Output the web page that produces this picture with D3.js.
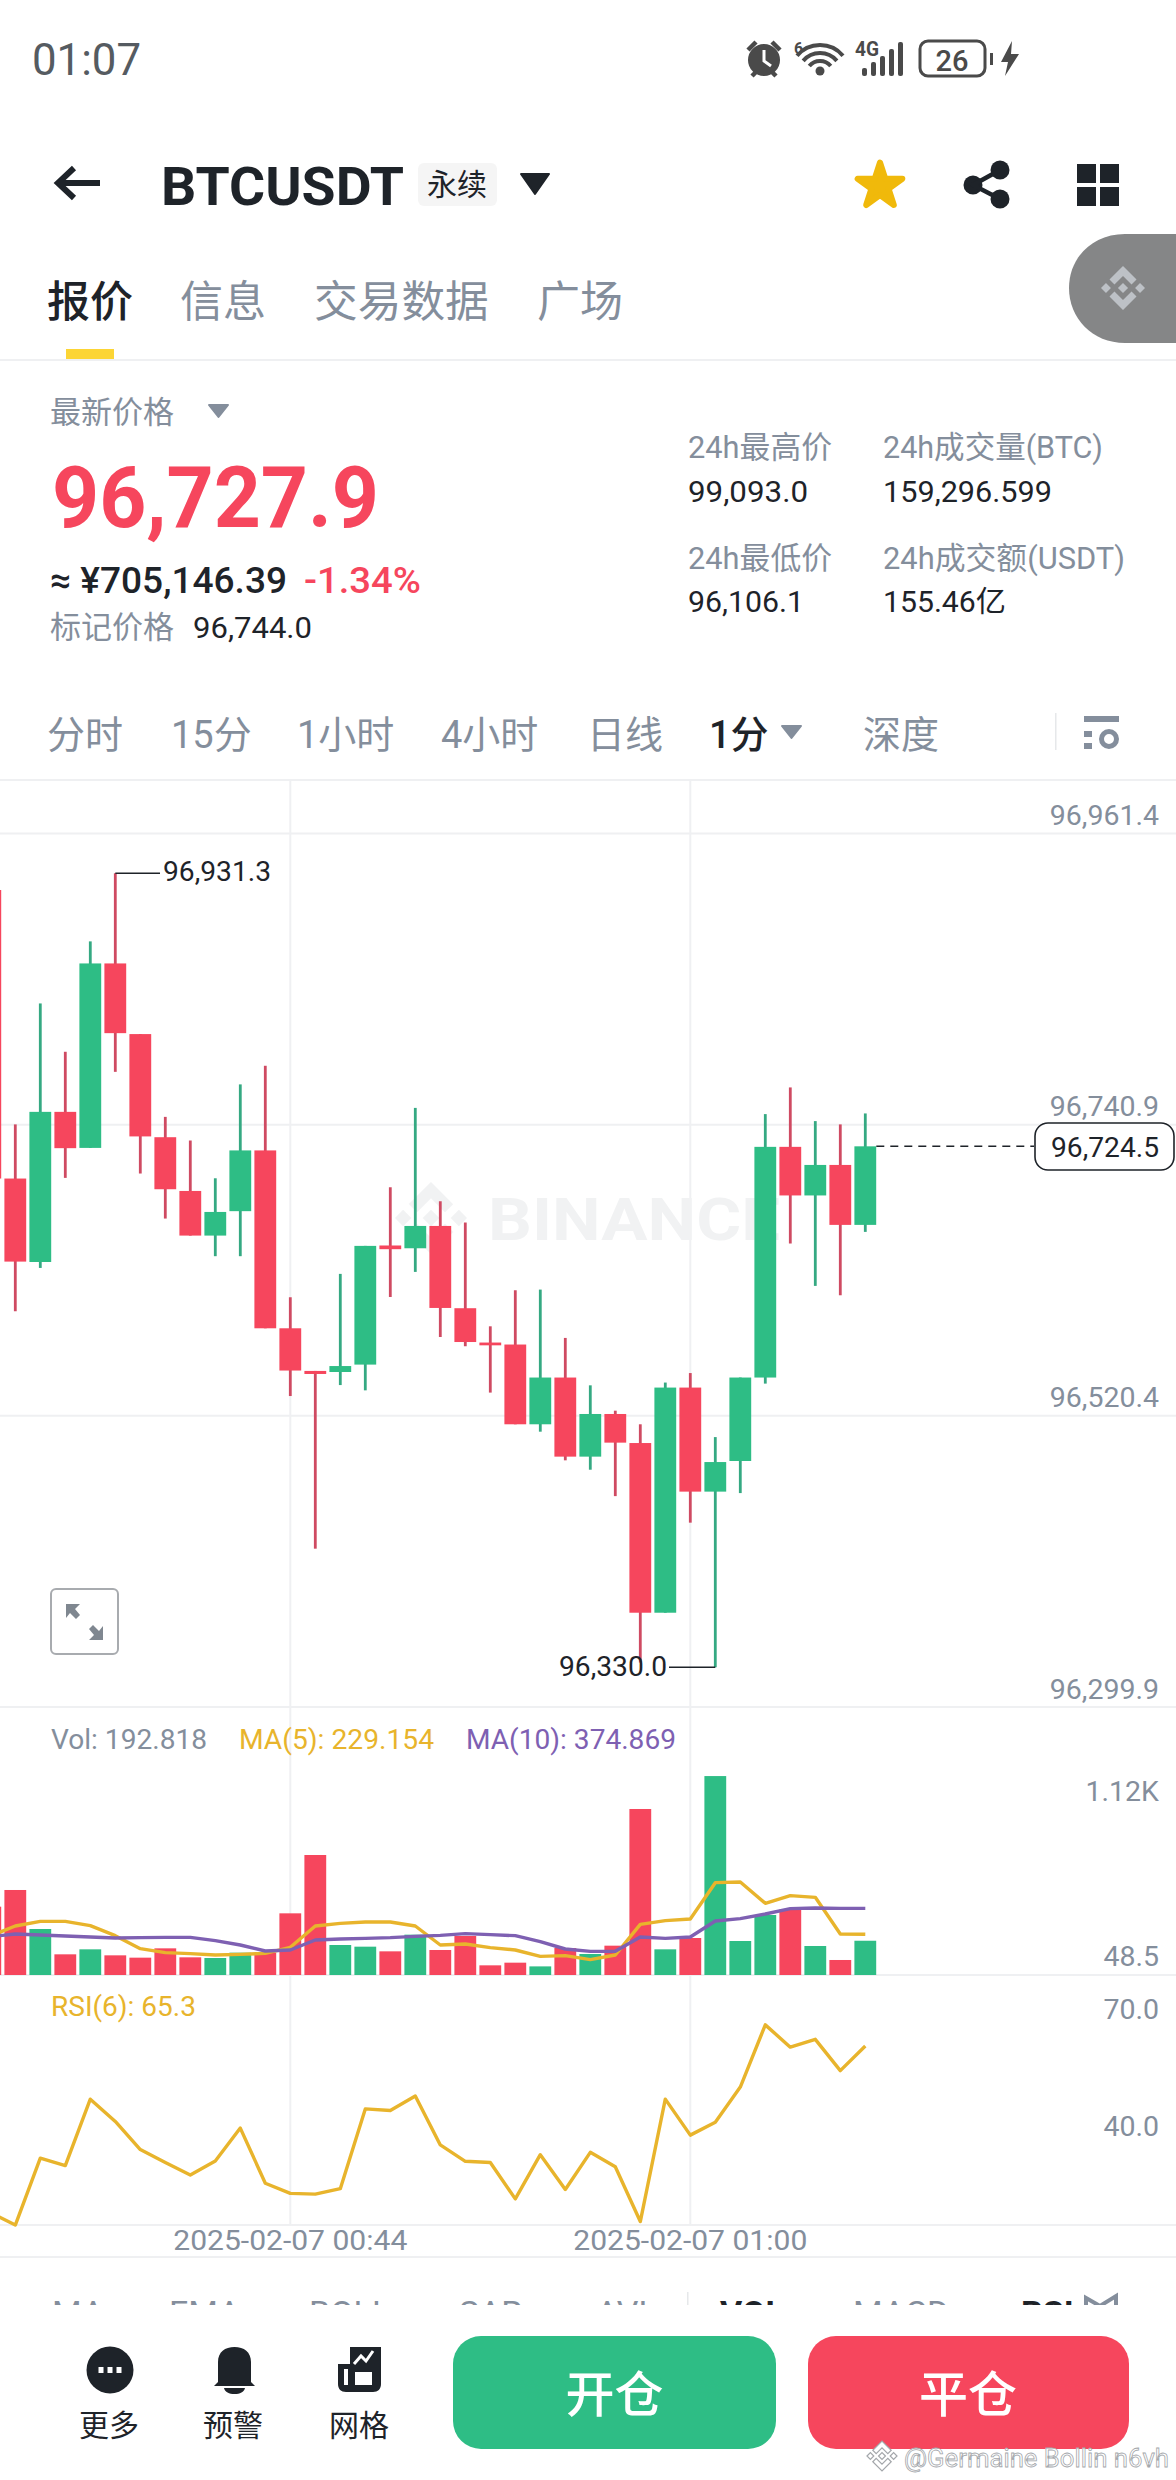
<!DOCTYPE html>
<html>
<head>
<meta charset="utf-8">
<script src="https://cdn.jsdelivr.net/npm/d3@7"></script>
<style>
  html, body { margin: 0; padding: 0; background: #fff; }
  svg { display: block; }
  text { font-family: Roboto, "Noto Sans CJK SC", sans-serif; }
</style>
</head>
<body>
<div id="chart"></div>
<script>
// one minute candles, first one is cut off by the left edge
const times = ["00:32","00:33","00:34","00:35","00:36","00:37","00:38","00:39","00:40","00:41","00:42","00:43",
    "00:44","00:45","00:46","00:47","00:48","00:49","00:50","00:51","00:52","00:53","00:54","00:55","00:56",
    "00:57","00:58","00:59","01:00","01:01","01:02","01:03","01:04","01:05","01:06","01:07"];
const opens = [96918.6,96700.1,96636.9,96750.6,96723.3,96863.0,96809.5,96731.4,96690.7,96656.9,96675.4,96721.4,
    96586.7,96554.4,96553.6,96559.2,96649.4,96647.3,96664.2,96601.9,96575.9,96574.4,96514.0,96549.4,96489.5,
    96521.8,96499.8,96371.3,96541.8,96463.0,96486.2,96549.4,96724.1,96687.3,96710.4,96665.0];
const highs = [96918.6,96741.1,96832.7,96796.1,96879.7,96931.3,96809.5,96746.8,96728.9,96700.3,96771.4,96785.5,
    96610.2,96554.4,96627.9,96649.1,96693.5,96753.6,96682.9,96666.8,96588.2,96615.5,96616.0,96579.4,96543.5,
    96524.3,96514.0,96545.6,96552.8,96504.3,96549.4,96748.9,96769.1,96743.6,96741.1,96749.4];
const lows = [96700.1,96599.6,96632.4,96700.6,96723.3,96780.9,96703.9,96669.8,96656.9,96641.3,96641.3,96586.7,
    96535.4,96419.8,96543.7,96539.7,96610.4,96629.4,96580.1,96573.1,96538.0,96514.0,96508.4,96486.7,96479.6,
    96459.6,96333.6,96371.3,96439.5,96330.0,96461.9,96544.8,96650.9,96618.8,96611.7,96659.7];
const closes = [96700.1,96637.2,96750.6,96723.1,96863.0,96810.2,96732.0,96692.0,96656.9,96674.8,96721.4,96586.7,
    96554.7,96552.1,96558.1,96649.1,96646.6,96664.2,96602.1,96576.3,96573.8,96514.0,96549.4,96489.5,96521.8,
    96500.1,96371.3,96541.8,96463.0,96485.4,96549.4,96724.1,96687.3,96710.4,96665.0,96724.5];

const volumes = [384.7,478.6,259.0,116.4,144.5,110.7,97.6,150.1,99.5,95.7,125.7,125.7,347.2,675.6,168.9,159.5,133.2,
    227.1,140.8,219.6,54.4,69.4,48.5,152.0,118.2,165.1,934.6,144.5,208.3,1120,191.4,337.8,369.7,163.3,84.5,192.818];
const ma5 = [219.6,275.9,302.1,302.1,277.8,221.4,148.3,125.7,120.1,112.6,116.4,122.0,155.8,275.9,290.9,298.4,298.4,
    275.9,168.9,174.5,153.9,140.8,105.1,108.8,86.3,112.6,285.3,305.9,315.3,519.8,523.6,403.5,446.7,437.3,230.8,229.154];
const ma10 = [215.8,230.8,225.2,219.6,213.9,208.3,210.2,212.1,212.1,193.3,168.9,135.1,140.8,197.1,202.7,206.4,210.2,
    217.7,223.3,232.7,227.1,221.5,187.7,146.4,133.2,133.2,213.9,206.4,213.9,304.0,317.2,343.4,373.5,377.2,375.3,374.869];
const rsi6 = [22.7,19.5,36.6,34.7,51.7,46.0,38.8,35.5,32.3,35.9,44.3,30.2,27.6,27.4,28.8,49.2,48.8,52.5,40.0,35.8,
    35.5,26.2,37.5,28.6,38.1,34.4,20.4,51.7,42.5,45.8,54.8,70.7,65.0,67.0,59.0,65.3];

const priceTicks = [96961.4, 96740.9, 96520.4, 96299.9];
const volTicks = [1120, 48.5];
const rsiTicks = [70, 40];
const timeTicks = ["00:44", "01:00"];
const periods = ["分时", "15分", "1小时", "4小时", "日线", "1分", "深度"];
const indicators = ["MA", "EMA", "BOLL", "SAR", "AVL", "VOL", "MACD", "RSI"];

const width = 1176, height = 2480;
const up = "#2EBD85", down = "#F6465D";
const upWick = "#35A982", downWick = "#CF4A62";
const ink = "#1E2329", grey = "#848E9C", gridColor = "#EFF0F2";
const yellow = "#E8B42C", purple = "#7E60B2";

const svg = d3.select("#chart").append("svg")
    .attr("width", width)
    .attr("height", height)
    .attr("viewBox", `0 0 ${width} ${height}`);

const label = (s, x, y, size, fill, o = {}) => {
    const t = svg.append("text")
        .attr("x", x).attr("y", y)
        .attr("font-size", size)
        .attr("fill", fill)
        .attr("font-weight", o.weight || 400)
        .attr("text-anchor", o.anchor || "start")
        .text(s);
    if (o.len) t.attr("textLength", o.len).attr("lengthAdjust", "spacingAndGlyphs");
    return t;
};

const tri = (x0, x1, y0, y1, fill) => svg.append("path")
    .attr("d", `M${x0},${y0}L${x1},${y0}L${(x0 + x1) / 2},${y1}Z`)
    .attr("fill", fill)
    .attr("stroke", fill).attr("stroke-width", 2).attr("stroke-linejoin", "round");

// binance logo, official shape in a 126.6 box
const logoPath = "M38.73 53.2L63.3 28.63L87.89 53.22L102.19 38.92L63.3 0L24.43 38.87Z" +
    "M0 63.31L14.3 49L28.6 63.3L14.3 77.6Z" +
    "M38.73 73.42L63.3 98L87.89 73.41L102.19 87.7L63.3 126.6L24.43 87.73Z" +
    "M98 63.31L112.3 49L126.6 63.3L112.3 77.6Z" +
    "M77.83 63.3L63.3 48.77L48.79 63.27L63.3 77.8Z";
const logo = (cx, cy, size, fill, stroke) => svg.append("path")
    .attr("d", logoPath)
    .attr("transform", `translate(${cx - size / 2},${cy - size / 2}) scale(${size / 126.6})`)
    .attr("fill", fill)
    .attr("stroke", stroke || "none")
    .attr("stroke-width", stroke ? 126.6 / size * 1.2 : 0);

// ---------- status bar ----------
label("01:07", 32, 75, 44, "#555b61", {len: 109});
const status = svg.append("g").attr("fill", "#4a4a4a").attr("stroke", "#4a4a4a");
status.append("circle").attr("cx", 764).attr("cy", 60).attr("r", 16).attr("stroke", "none");
svg.append("path").attr("d", "M764,50V61L771,66").attr("fill", "none").attr("stroke", "#fff").attr("stroke-width", 3);
status.append("path").attr("d", "M748,50L756,42M780,50L772,42M752,76L757,71M776,76L771,71").attr("fill", "none").attr("stroke-width", 4.5);
label("6", 794, 54, 16, "#4a4a4a", {weight: 700});
[30, 22, 14].forEach(r => {
    const dx = r * Math.sin(Math.PI * 50 / 180), dy = r * Math.cos(Math.PI * 50 / 180);
    status.append("path")
        .attr("d", `M${820 - dx},${75 - dy}A${r},${r} 0 0 1 ${820 + dx},${75 - dy}`)
        .attr("fill", "none").attr("stroke-width", 4);
});
status.append("circle").attr("cx", 820).attr("cy", 71).attr("r", 4.5).attr("stroke", "none");
label("4G", 855, 56, 20, "#4a4a4a", {weight: 700, len: 24});
[[862, 68], [871, 62], [880, 56], [889, 49], [898, 42]].forEach(([x, t]) => status.append("rect")
    .attr("x", x).attr("y", t).attr("width", 5).attr("height", 76 - t).attr("rx", 2).attr("stroke", "none"));
svg.append("rect").attr("x", 920).attr("y", 41).attr("width", 65).attr("height", 35).attr("rx", 8)
    .attr("fill", "none").attr("stroke", "#4a4a4a").attr("stroke-width", 3);
label("26", 952, 71, 29, "#4a4a4a", {anchor: "middle", weight: 500});
status.append("rect").attr("x", 990).attr("y", 53).attr("width", 3).attr("height", 12).attr("stroke", "none");
status.append("path").attr("d", "M1012,41L1001,62H1008L1005,76L1019,54H1011Z").attr("stroke", "none");

// ---------- header ----------
svg.append("path").attr("d", "M100,183H59M74,168L58,183L74,198")
    .attr("fill", "none").attr("stroke", ink).attr("stroke-width", 6);
label("BTCUSDT", 161, 205, 53, ink, {weight: 700, len: 243});
svg.append("rect").attr("x", 418).attr("y", 163).attr("width", 79).attr("height", 43).attr("rx", 6).attr("fill", "#F5F5F5");
label("永续", 457, 195, 30, ink, {anchor: "middle"});
tri(521, 549, 174, 194, ink);
svg.append("path")
    .attr("d", d3.symbol().type(d3.symbolStar).size(620))
    .attr("transform", "translate(880,186)")
    .attr("fill", "#F0B90B").attr("stroke", "#F0B90B").attr("stroke-width", 6).attr("stroke-linejoin", "round");
const share = svg.append("g").attr("fill", ink);
[[1000, 170], [973, 185], [1000, 199]].forEach(([cx, cy]) => share.append("circle").attr("cx", cx).attr("cy", cy).attr("r", 9.5));
svg.append("path").attr("d", "M1000,170L973,185L1000,199").attr("fill", "none").attr("stroke", ink).attr("stroke-width", 4.5);
[[1077, 164], [1100, 164], [1077, 187], [1100, 187]].forEach(([x, y]) => svg.append("rect")
    .attr("x", x).attr("y", y).attr("width", 19).attr("height", 19).attr("fill", ink));
svg.append("path")
    .attr("d", "M1176,234H1125C1092,234 1069,258 1069,288C1069,318 1092,343 1125,343H1176Z")
    .attr("fill", "#858687");
logo(1123, 288, 44, "#BDC1C6");

// ---------- tabs ----------
label("报价", 47, 317, 43, ink, {weight: 500});
label("信息", 180, 317, 43, grey);
label("交易数据", 314, 317, 43.7, grey);
label("广场", 537, 317, 43, grey);
svg.append("rect").attr("x", 66).attr("y", 349).attr("width", 48).attr("height", 10).attr("fill", "#FCD535");
svg.append("rect").attr("x", 0).attr("y", 359).attr("width", width).attr("height", 2).attr("fill", gridColor);

// ---------- price block ----------
label("最新价格", 50, 423, 31, grey);
tri(209, 228, 405, 417, grey);
label("96,727.9", 52, 527, 86, down, {weight: 700, len: 327});
label("≈ ¥705,146.39", 50, 593, 37, ink, {weight: 500, len: 237});
label("-1.34%", 304, 593, 37, down, {weight: 500, len: 117});
label("标记价格", 50, 638, 31, grey);
label("96,744.0", 193, 638, 29, ink, {len: 119});

label("24h最高价", 688, 458, 31, grey, {len: 144});
label("24h成交量(BTC)", 883, 458, 31, grey, {len: 220});
label("99,093.0", 688, 502, 29, ink, {len: 120});
label("159,296.599", 883, 502, 29, ink, {len: 169});
label("24h最低价", 688, 569, 31, grey, {len: 144});
label("24h成交额(USDT)", 883, 569, 31, grey, {len: 242});
label("96,106.1", 688, 612, 29, ink, {len: 116});
label("155.46亿", 883, 612, 29, ink, {len: 123});

// ---------- period row ----------
const periodX = [47, 171, 297, 441, 587, 709, 863];
periods.forEach((p, i) => {
    const active = p === "1分";
    label(p, periodX[i], 748, 38, active ? ink : grey, {weight: active ? 500 : 400});
});
tri(782, 801, 726, 738, grey);
svg.append("rect").attr("x", 1055).attr("y", 713).attr("width", 1.5).attr("height", 37).attr("fill", "#E6E8EA");
svg.append("rect").attr("x", 1084).attr("y", 716).attr("width", 35).attr("height", 6).attr("fill", grey);
svg.append("rect").attr("x", 1084).attr("y", 731).attr("width", 8).attr("height", 6).attr("fill", grey);
svg.append("rect").attr("x", 1084).attr("y", 743).attr("width", 8).attr("height", 6).attr("fill", grey);
svg.append("circle").attr("cx", 1109).attr("cy", 739).attr("r", 7.5)
    .attr("fill", "none").attr("stroke", grey).attr("stroke-width", 5);

// ---------- scales ----------
const x = d3.scaleBand().domain(times).range([-22.2, 877.8]);
const cx = t => x(t) + x.bandwidth() / 2;
const y = d3.scaleLinear().domain([96961.4, 96299.9]).range([833.5, 1707]);
const yVol = d3.scaleLinear().domain([0, 1126]).range([1975, 1775]);
const yRsi = d3.scaleLinear().domain([70, 40]).range([2027.6, 2144.9]);
const axisX = 1159;

// ---------- grid ----------
const grid = svg.append("g").attr("stroke", gridColor).attr("stroke-width", 2);
grid.append("line").attr("x1", 0).attr("x2", width).attr("y1", 780).attr("y2", 780);
priceTicks.forEach(t => grid.append("line").attr("x1", 0).attr("x2", width).attr("y1", y(t)).attr("y2", y(t)));
[yVol(0), yRsi(19.5), 2257].forEach(v => grid.append("line").attr("x1", 0).attr("x2", width).attr("y1", v).attr("y2", v));
timeTicks.forEach(t => grid.append("line").attr("x1", cx(t)).attr("x2", cx(t)).attr("y1", 780).attr("y2", yRsi(19.5)));

// ---------- watermark, sits under the candles ----------
logo(431, 1218, 72, "#F1F2F3");
label("BINANCE", 488, 1240, 59, "#F1F2F3", {weight: 700, len: 292});

// ---------- candles ----------
const candles = times.map((t, i) => ({t, o: opens[i], h: highs[i], l: lows[i], c: closes[i], v: volumes[i]}));
const isUp = d => d.c >= d.o;

svg.append("g").selectAll("rect")
    .data(candles)
    .join("rect")
    .attr("x", d => cx(d.t) - 1.4)
    .attr("width", 2.8)
    .attr("y", d => y(d.h))
    .attr("height", d => y(d.l) - y(d.h))
    .attr("fill", d => isUp(d) ? upWick : downWick);

svg.append("g").selectAll("rect")
    .data(candles)
    .join("rect")
    .attr("x", d => cx(d.t) - 10.9)
    .attr("width", 21.8)
    .attr("y", d => y(Math.max(d.o, d.c)))
    .attr("height", d => Math.max(2.5, Math.abs(y(d.o) - y(d.c))))
    .attr("fill", d => isUp(d) ? up : down);

// high / low flags
const highest = candles[d3.greatestIndex(highs)];
const lowest = candles[d3.leastIndex(lows)];
svg.append("line").attr("x1", cx(highest.t)).attr("x2", 160).attr("y1", y(highest.h)).attr("y2", y(highest.h))
    .attr("stroke", ink).attr("stroke-width", 1.6);
label(d3.format(",.1f")(highest.h), 163, 881, 28, ink, {len: 108});
svg.append("line").attr("x1", 669).attr("x2", cx(lowest.t)).attr("y1", y(lowest.l)).attr("y2", y(lowest.l))
    .attr("stroke", ink).attr("stroke-width", 1.6);
label(d3.format(",.1f")(lowest.l), 559, 1676, 28, ink, {len: 108});

// last price line and tag
const lastClose = closes[closes.length - 1];
svg.append("line").attr("x1", cx(times[times.length - 1]) + 11).attr("x2", 1034).attr("y1", y(lastClose)).attr("y2", y(lastClose))
    .attr("stroke", ink).attr("stroke-width", 1.6).attr("stroke-dasharray", "8 6");
svg.append("rect").attr("x", 1035).attr("y", 1123).attr("width", 139).attr("height", 47).attr("rx", 13)
    .attr("fill", "#fff").attr("stroke", ink).attr("stroke-width", 1.6);
label(d3.format(",.1f")(lastClose), axisX, 1157, 28, ink, {anchor: "end", len: 108});

// ---------- axes ----------
const styleAxis = g => {
    g.select(".domain").remove();
    g.selectAll(".tick line").remove();
    g.selectAll("text")
        .attr("font-size", 28.5)
        .attr("fill", grey)
        .attr("font-family", 'Roboto, "Noto Sans CJK SC", sans-serif')
        .attr("x", 0)
        .attr("dy", 0);
};
svg.append("g")
    .attr("transform", `translate(${axisX},0)`)
    .call(d3.axisLeft(y).tickValues(priceTicks).tickFormat(d3.format(",.1f")))
    .call(styleAxis)
    .selectAll("text").attr("y", -9);
svg.append("g")
    .attr("transform", `translate(${axisX},0)`)
    .call(d3.axisLeft(yVol).tickValues(volTicks).tickFormat(d => d >= 1000 ? d3.format(".2f")(d / 1000) + "K" : d3.format(".1f")(d)))
    .call(styleAxis)
    .selectAll("text").attr("y", d => d >= 1000 ? 24 : -1);
svg.append("g")
    .attr("transform", `translate(${axisX},0)`)
    .call(d3.axisLeft(yRsi).tickValues(rsiTicks).tickFormat(d3.format(".1f")))
    .call(styleAxis)
    .selectAll("text").attr("y", -9.5);
svg.append("g")
    .attr("transform", "translate(0,2250)")
    .call(d3.axisBottom(x).tickValues(timeTicks).tickFormat(d => `2025-02-07 ${d}`))
    .call(styleAxis)
    .selectAll("text").attr("y", 0).attr("x", 0).attr("text-anchor", "middle")
    .attr("textLength", 234).attr("lengthAdjust", "spacingAndGlyphs");

// expand button
svg.append("rect").attr("x", 51).attr("y", 1589).attr("width", 67).attr("height", 65).attr("rx", 5)
    .attr("fill", "#fff").attr("stroke", "#A8ABAF").attr("stroke-width", 2);
svg.append("path")
    .attr("d", "M66,1604H80L75,1609L80,1615L76,1619L70,1613L66,1618Z" +
        "M103,1640H89L94,1635L89,1629L93,1625L99,1631L103,1626Z")
    .attr("fill", "#7F8790");

// ---------- volume pane ----------
label("Vol: 192.818", 51, 1749, 28, grey, {len: 156});
label("MA(5): 229.154", 239, 1749, 28, yellow, {len: 195});
label("MA(10): 374.869", 466, 1749, 28, purple, {len: 210});

svg.append("g").selectAll("rect")
    .data(candles)
    .join("rect")
    .attr("x", d => cx(d.t) - 10.9)
    .attr("width", 21.8)
    .attr("y", d => yVol(d.v))
    .attr("height", d => yVol(0) - yVol(d.v))
    .attr("fill", d => isUp(d) ? up : down);

const maLine = yScale => d3.line().x((d, i) => cx(times[i])).y(d => yScale(d));
[[ma5, yellow], [ma10, purple]].forEach(([values, color]) => svg.append("path")
    .attr("d", maLine(yVol)(values))
    .attr("fill", "none")
    .attr("stroke", color)
    .attr("stroke-width", 3.4)
    .attr("stroke-linejoin", "round"));

// ---------- rsi pane ----------
label("RSI(6): 65.3", 51, 2016, 28, yellow, {len: 145});
svg.append("path")
    .attr("d", maLine(yRsi)(rsi6))
    .attr("fill", "none")
    .attr("stroke", yellow)
    .attr("stroke-width", 3.4)
    .attr("stroke-linejoin", "round");

// ---------- indicator row, mostly hidden by the bottom bar ----------
const indicatorX = [52, 169, 309, 459, 596, 720, 853, 1021];
indicators.forEach((s, i) => {
    const active = s === "VOL" || s === "RSI";
    label(s, indicatorX[i], 2325, 34, active ? ink : grey, {weight: active ? 700 : 400});
});
svg.append("rect").attr("x", 687).attr("y", 2292).attr("width", 1.5).attr("height", 20).attr("fill", "#E6E8EA");
svg.append("path").attr("d", "M1086,2310V2298L1100,2306L1116,2296V2310").attr("fill", "none").attr("stroke", grey).attr("stroke-width", 4);
svg.append("rect").attr("x", 0).attr("y", 2305).attr("width", width).attr("height", 175).attr("fill", "#fff");

// ---------- bottom bar ----------
svg.append("circle").attr("cx", 110).attr("cy", 2370).attr("r", 23.5).attr("fill", ink);
[-9, 0, 9].forEach(d => svg.append("rect").attr("x", 110 + d - 2.5).attr("y", 2367).attr("width", 5).attr("height", 6).attr("fill", "#fff"));
svg.append("path")
    .attr("d", "M218,2382V2362C218,2352 225,2347 234.500,2347C244,2347 251,2352 251,2362V2382L255,2386H214Z")
    .attr("fill", ink);
svg.append("path").attr("d", "M224,2388H245C244,2392 240,2394 234.500,2394C229,2394 225,2392 224,2388Z").attr("fill", ink);
svg.append("path")
    .attr("d", "M350,2347H381V2384C381,2389 378,2392 373,2392H346C341,2392 338,2389 338,2384V2364H350Z")
    .attr("fill", ink);
svg.append("path").attr("d", "M354,2364L361,2356L366,2361L373,2351").attr("fill", "none").attr("stroke", "#fff").attr("stroke-width", 3);
svg.append("rect").attr("x", 344).attr("y", 2369).attr("width", 4).attr("height", 16).attr("fill", "#fff");
svg.append("rect").attr("x", 355).attr("y", 2372).attr("width", 17).attr("height", 13).attr("fill", "#fff");
label("更多", 109, 2436, 30, ink, {anchor: "middle"});
label("预警", 233, 2436, 30, ink, {anchor: "middle"});
label("网格", 359, 2436, 30, ink, {anchor: "middle"});

svg.append("rect").attr("x", 453).attr("y", 2336).attr("width", 323).attr("height", 113).attr("rx", 28).attr("fill", up);
label("开仓", 614.5, 2412, 49, "#fff", {anchor: "middle", weight: 500});
svg.append("rect").attr("x", 808).attr("y", 2336).attr("width", 321).attr("height", 113).attr("rx", 28).attr("fill", down);
label("平仓", 968, 2412, 49, "#fff", {anchor: "middle", weight: 500});

// repost mark
logo(882, 2456, 30, "#fff", "#A4A7AB");
label("@Germaine Bollin n6vh", 904, 2467, 26, "#fff", {len: 265})
    .attr("stroke", "#A4A7AB").attr("stroke-width", 0.8);
</script>
</body>
</html>
